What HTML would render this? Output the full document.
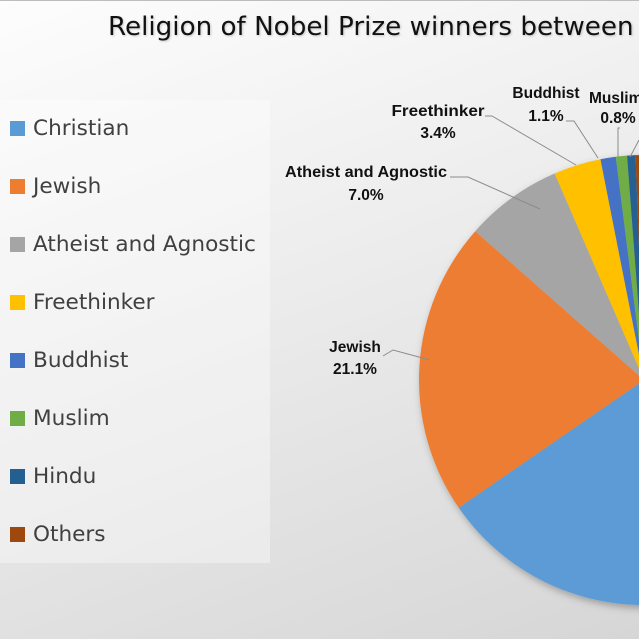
<!DOCTYPE html>
<html><head><style>
html,body{margin:0;padding:0}
body{width:639px;height:639px;overflow:hidden;position:relative;background:linear-gradient(160deg,#fdfdfd 0%,#ececec 45%,#d6d6d6 100%);font-family:"Liberation Sans",sans-serif}
.topline{position:absolute;left:0;top:0;width:639px;height:1px;background:#bdbdbd}
.title{position:absolute;left:108px;top:12px;font-family:"DejaVu Sans","Liberation Sans",sans-serif;font-size:26.2px;color:#111;white-space:nowrap;text-shadow:1px 1px 2px rgba(0,0,0,.2)}
.legend{position:absolute;left:0;top:100px;width:270px;height:463px;background:rgba(255,255,255,.35)}
.li{position:absolute;left:10px;height:30px;font-family:"DejaVu Sans","Liberation Sans",sans-serif;font-size:21.6px;color:#404040;white-space:nowrap}
.li span{display:inline-block;width:15px;height:15px;margin-right:8px;vertical-align:-1px}
svg{position:absolute;left:0;top:0}
</style></head><body>
<div class="topline"></div>
<div class="title">Religion of Nobel Prize winners between</div>
<div class="legend"></div>
<div class="li" style="top:116px"><span style="background:#5b9bd5"></span>Christian</div>
<div class="li" style="top:174px"><span style="background:#ed7d31"></span>Jewish</div>
<div class="li" style="top:232px"><span style="background:#a5a5a5"></span>Atheist and Agnostic</div>
<div class="li" style="top:290px"><span style="background:#ffc000"></span>Freethinker</div>
<div class="li" style="top:348px"><span style="background:#4472c4"></span>Buddhist</div>
<div class="li" style="top:406px"><span style="background:#70ad47"></span>Muslim</div>
<div class="li" style="top:464px"><span style="background:#255e91"></span>Hindu</div>
<div class="li" style="top:522px"><span style="background:#9e480e"></span>Others</div>
<svg width="639" height="639" viewBox="0 0 639 639">
<defs><filter id="sh" x="-20%" y="-20%" width="140%" height="140%"><feDropShadow dx="2" dy="3" stdDeviation="4" flood-color="#000" flood-opacity="0.3"/></filter></defs>
<g id="pie" filter="url(#sh)"></g>
<g stroke="#8c8c8c" stroke-width="1" fill="none">
<polyline points="485,116 492,116 576,165"/>
<polyline points="566,121 574,121 598,158"/>
<polyline points="620,128 618,128 618,157"/>
<polyline points="639,140 630,157"/>
<polyline points="450,177 468,177 540,209"/>
<polyline points="383,356 393,350 430,360"/>
</g>
<g font-family="Liberation Sans, sans-serif" font-weight="bold" font-size="15.5" fill="#111" text-anchor="middle">
<text x="438" y="116" textLength="93" lengthAdjust="spacingAndGlyphs">Freethinker</text><text x="438" y="138">3.4%</text>
<text x="546" y="98">Buddhist</text><text x="546" y="121">1.1%</text>
<text x="589" y="103" text-anchor="start">Muslim</text><text x="618" y="123">0.8%</text>
<text x="366" y="177" textLength="162" lengthAdjust="spacingAndGlyphs">Atheist and Agnostic</text><text x="366" y="200">7.0%</text>
<text x="355" y="352">Jewish</text><text x="355" y="374">21.1%</text>
</g>
</svg>
<script>
var cx=644,cy=380,r=225;
var d=[[65.4,"#5b9bd5"],[21.1,"#ed7d31"],[7.0,"#a5a5a5"],[3.4,"#ffc000"],[1.1,"#4472c4"],[0.8,"#70ad47"],[0.6,"#255e91"],[0.6,"#9e480e"]];
var tot=0;d.forEach(function(x){tot+=x[0]});
var a=0,g=document.getElementById("pie"),s="";
function pt(t){var rad=t/tot*2*Math.PI;return [cx+r*Math.sin(rad),cy-r*Math.cos(rad)];}
d.forEach(function(x){var p1=pt(a);a+=x[0];var p2=pt(a);var large=x[0]/tot>0.5?1:0;
s+='<path d="M'+cx+','+cy+' L'+p1[0]+','+p1[1]+' A'+r+','+r+' 0 '+large+' 1 '+p2[0]+','+p2[1]+' Z" fill="'+x[1]+'"/>';});
g.innerHTML=s;
</script>
</body></html>
